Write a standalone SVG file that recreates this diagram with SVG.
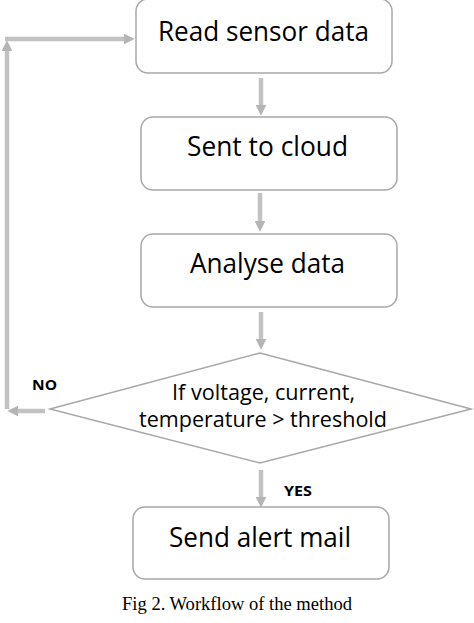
<svg xmlns="http://www.w3.org/2000/svg" width="474" height="623" viewBox="0 0 474 623">
<style>
.box{fill:#fff;stroke:#a8a8a8;stroke-width:1.5}
.t{font-family:"Open Sans","Liberation Sans",sans-serif;fill:#000;text-anchor:middle}
.lbl{font-family:"Open Sans","Liberation Sans",sans-serif;font-weight:bold;fill:#000;font-size:15px}
.c{fill:none;stroke:#c2c2c2;stroke-width:4.5;marker-end:url(#ah)}
</style>
<defs>
<marker id="ah" viewBox="0 0 10 10" refX="2" refY="5" markerWidth="2.4" markerHeight="2.4" orient="auto" markerUnits="strokeWidth">
<path d="M0,0 L10,5 L0,10 z" fill="#b5b5b5"/>
</marker>
</defs>
<rect width="474" height="623" fill="#fff"/>
<g id="connectors">
<line class="c" x1="261" y1="78" x2="261" y2="107"/>
<line class="c" x1="260" y1="193" x2="260" y2="223"/>
<line class="c" x1="261" y1="312" x2="261" y2="341"/>
<line class="c" x1="261" y1="470" x2="261" y2="499"/>
<line class="c" x1="45" y1="411" x2="16" y2="411"/>
<line class="c" x1="7" y1="409" x2="7" y2="49"/>
<line class="c" x1="5" y1="39" x2="126" y2="39"/>
</g>
<g id="read">
<rect class="box" x="136" y="-1" width="256" height="74" rx="12"/>
<text class="t" x="263.5" y="41" font-size="28" textLength="211" lengthAdjust="spacingAndGlyphs">Read sensor data</text>
</g>
<g id="cloud">
<rect class="box" x="141" y="117" width="256" height="73" rx="12"/>
<text class="t" x="267.5" y="156" font-size="27" textLength="161" lengthAdjust="spacingAndGlyphs">Sent to cloud</text>
</g>
<g id="analyse">
<rect class="box" x="141" y="234" width="256" height="73" rx="12"/>
<text class="t" x="267.5" y="273" font-size="27" textLength="155" lengthAdjust="spacingAndGlyphs">Analyse data</text>
</g>
<g id="decision">
<polygon class="box" points="260,353 471,409 260,463 50,409"/>
<text class="t" x="263.5" y="400" font-size="21" textLength="183" lengthAdjust="spacingAndGlyphs">If voltage, current,</text>
<text class="t" x="263" y="427" font-size="21" textLength="248" lengthAdjust="spacingAndGlyphs">temperature &gt; threshold</text>
<text class="lbl" x="32" y="390" textLength="25" lengthAdjust="spacingAndGlyphs">NO</text>
<text class="lbl" x="284" y="496" textLength="28" lengthAdjust="spacingAndGlyphs">YES</text>
</g>
<g id="alert">
<rect class="box" x="133" y="507" width="256" height="72" rx="12"/>
<text class="t" x="260" y="547" font-size="28" textLength="182" lengthAdjust="spacingAndGlyphs">Send alert mail</text>
</g>
<text x="237" y="610" font-family="Liberation Serif,serif" font-size="19" text-anchor="middle" textLength="230" lengthAdjust="spacingAndGlyphs">Fig 2. Workflow of the method</text>
</svg>
